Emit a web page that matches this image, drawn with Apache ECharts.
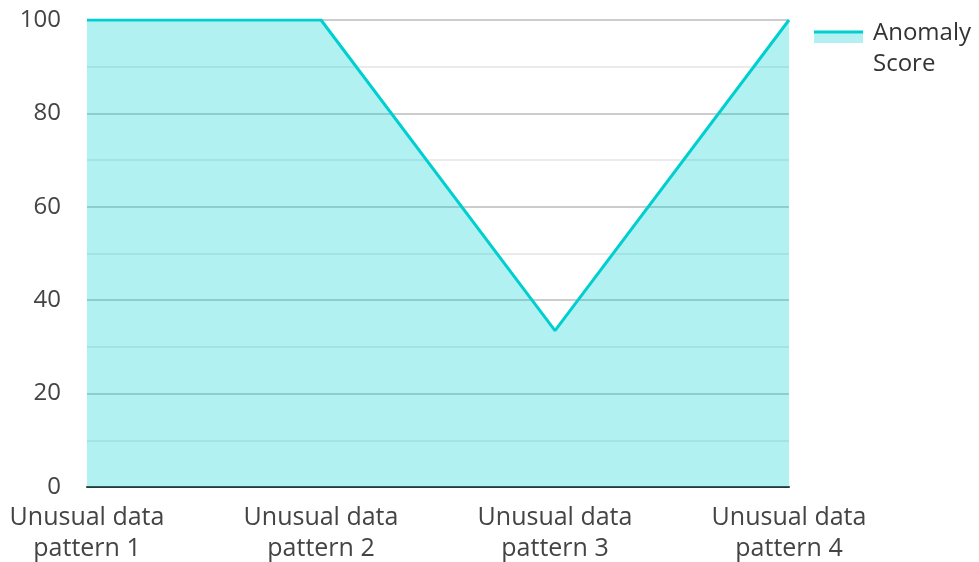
<!DOCTYPE html>
<html>
<head>
<meta charset="utf-8">
<script src="https://cdn.jsdelivr.net/npm/echarts@6/dist/echarts.min.js"></script>
<style>
  html, body { margin: 0; padding: 0; background: #fff; }
  #chart { width: 979px; height: 562px; }
</style>
</head>
<body>
<div id="chart"></div>
<script>
// Categories and values for the anomaly score line
const categories = ['Unusual data\npattern 1', 'Unusual data\npattern 2', 'Unusual data\npattern 3', 'Unusual data\npattern 4'];
const anomalyScore = [100, 100, 33.5, 100];
const seriesName = 'Anomaly Score';
const yTicks = [0, 20, 40, 60, 80, 100];

const lineColor = '#00cfd0';
const fillColor = 'rgba(0, 207, 208, 0.3)';
const fontFamily = '"Open Sans", "Noto Sans", sans-serif';

const chart = echarts.init(document.getElementById('chart'), null, { renderer: 'canvas' });

chart.setOption({
  animation: false,
  grid: { left: 87, right: 190, top: 20, bottom: 75, containLabel: false, outerBoundsMode: 'none' },
  // Legend key: shaded swatch with the line on top, and a wrapped caption
  graphic: [
    {
      type: 'rect',
      shape: { x: 814, y: 31, width: 49, height: 12 },
      style: { fill: '#b3f0f1' },
      z: 100
    },
    {
      type: 'line',
      shape: { x1: 814, y1: 32, x2: 863, y2: 32 },
      style: { stroke: lineColor, lineWidth: 3 },
      z: 101
    },
    {
      type: 'text',
      x: 873,
      y: 18,
      style: {
        text: 'Anomaly\nScore',
        fontFamily: fontFamily,
        fontSize: 24,
        lineHeight: 31,
        fill: '#333',
        verticalAlign: 'top'
      },
      z: 101
    }
  ],
  xAxis: {
    type: 'category',
    data: categories,
    boundaryGap: false,
    axisLine: { show: true, lineStyle: { color: '#333', width: 2 } },
    axisTick: { show: false },
    splitLine: { show: false },
    axisLabel: {
      fontFamily: fontFamily,
      fontSize: 25,
      color: '#444',
      lineHeight: 31,
      margin: 15,
      interval: 0
    }
  },
  yAxis: {
    type: 'value',
    min: yTicks[0],
    max: yTicks[yTicks.length - 1],
    interval: 20,
    axisLine: { show: false },
    axisTick: { show: false },
    axisLabel: {
      fontFamily: fontFamily,
      fontSize: 24,
      color: '#444',
      margin: 26
    },
    splitLine: { show: true, lineStyle: { color: '#cccccc', width: 2 } },
    minorTick: { show: false, splitNumber: 2 },
    minorSplitLine: { show: true, lineStyle: { color: '#ebebeb', width: 2 } }
  },
  series: [
    {
      name: seriesName,
      type: 'line',
      data: anomalyScore,
      symbol: 'none',
      lineStyle: { color: lineColor, width: 3 },
      itemStyle: { color: lineColor },
      areaStyle: { color: fillColor, opacity: 1 },
      z: 3
    }
  ]
});
</script>
</body>
</html>
